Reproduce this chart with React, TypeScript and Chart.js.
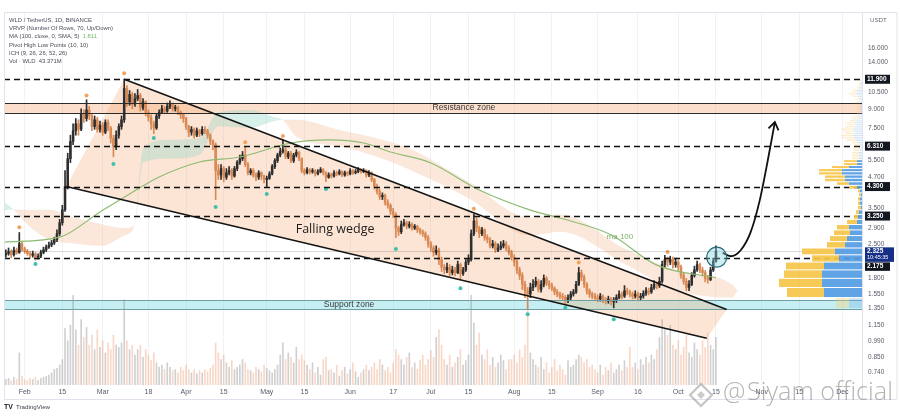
import React, { useEffect, useRef } from "react";
import { Chart, registerables } from "chart.js";

Chart.register(...registerables);

// ---------- DATA ----------
const FIRST_DAY = -6; // candle index of first bar (Jan 26)
const FIRST_OPEN = 2.25;

const closes = [
  2.28, 2.32, 2.25, 2.35, 2.30, 2.50, 2.38, 2.33, 2.28, 2.24, 2.27, 2.20, 2.22, 2.30, 2.36, 2.42, 2.47, 2.52, 2.60,
  2.75, 3.05, 3.45, 4.30, 5.60, 6.60, 7.30, 7.80, 7.40, 8.60, 8.20, 8.90, 8.40,
  7.60, 8.10, 7.40, 7.70, 7.20, 7.90, 7.50, 6.80, 6.30, 7.00, 7.60, 8.10, 10.90,
  9.60, 10.30, 9.40, 9.90, 10.20, 9.10, 9.60, 8.70, 8.30, 7.80, 7.50, 8.40, 8.70,
  9.00, 8.80, 9.20, 9.40, 9.00, 9.10, 8.70, 8.50, 8.20, 7.60, 7.20, 7.40, 7.00,
  7.30, 7.10, 7.40, 7.30, 7.00, 6.60, 6.40, 5.00, 4.80, 5.10, 4.70, 4.90, 5.00,
  4.75, 5.10, 5.40, 5.60, 5.80, 5.30, 4.90, 5.00, 4.80, 4.70, 4.90, 4.75, 4.60,
  4.65, 4.85, 5.20, 5.50, 5.80, 6.00, 6.10, 5.70, 5.90, 5.50, 5.80, 5.95, 5.60,
  5.00, 4.90, 5.05, 4.95, 5.00, 4.85, 4.95, 5.05, 4.90, 4.70, 4.80, 4.75, 4.90,
  4.85, 4.95, 4.80, 4.90, 4.85, 5.00, 4.90, 4.95, 5.05, 4.95, 5.00, 4.80, 4.90,
  4.60, 4.30, 4.10, 3.90, 3.95, 3.70, 3.60, 3.40, 3.30, 2.90, 2.80, 3.00, 3.05,
  2.95, 3.00, 2.90, 2.95, 2.85, 2.80, 2.75, 2.65, 2.50, 2.40, 2.30, 2.35, 2.15,
  2.00, 1.95, 2.00, 1.90, 1.95, 1.90, 2.05, 1.88, 1.95, 2.10, 2.15, 2.75, 3.10,
  2.90, 2.75, 2.85, 2.65, 2.60, 2.45, 2.50, 2.35, 2.40, 2.45, 2.50, 2.40, 2.30,
  2.20, 2.10, 1.95, 1.85, 1.70, 1.60, 1.55, 1.65, 1.70, 1.75, 1.62, 1.70, 1.80,
  1.72, 1.68, 1.64, 1.58, 1.55, 1.52, 1.50, 1.46, 1.50, 1.55, 1.58, 1.70, 1.90,
  1.82, 1.70, 1.60, 1.55, 1.52, 1.50, 1.48, 1.52, 1.47, 1.45, 1.48, 1.44, 1.46,
  1.50, 1.55, 1.52, 1.60, 1.58, 1.55, 1.52, 1.55, 1.50, 1.52, 1.56, 1.60, 1.58,
  1.65, 1.70, 1.68, 1.75, 2.05, 2.15, 2.10, 2.15, 2.05, 2.10, 2.00, 1.85, 1.75,
  1.65, 1.70, 1.85, 1.95, 2.05, 1.95, 1.90, 1.80, 1.78, 1.95, 2.12, 2.33,
];

const highs = [
  2.36, 2.40, 2.36, 2.42, 2.40, 2.78, 2.55, 2.42, 2.37, 2.32, 2.33, 2.30, 2.27, 2.35, 2.42, 2.47, 2.54, 2.58, 2.66,
  2.85, 3.15, 3.60, 5.00, 5.90, 7.00, 7.80, 8.20, 8.10, 9.00, 8.90, 9.80, 9.20,
  8.60, 8.40, 8.30, 8.00, 7.90, 8.10, 8.10, 7.60, 7.00, 7.30, 7.80, 8.40, 11.90,
  11.20, 10.70, 10.50, 10.40, 10.80, 10.40, 9.90, 9.70, 8.90, 8.50, 8.00, 8.60, 8.90,
  9.30, 9.20, 9.50, 9.70, 9.50, 9.30, 9.20, 8.80, 8.60, 8.30, 7.70, 7.60, 7.50,
  7.50, 7.40, 7.60, 7.60, 7.40, 7.10, 6.70, 6.50, 5.30, 5.30, 5.20, 5.10, 5.20,
  5.10, 5.20, 5.50, 5.80, 6.00, 6.30, 5.40, 5.10, 5.10, 4.90, 5.00, 4.95, 4.80,
  4.75, 4.95, 5.30, 5.60, 5.90, 6.20, 6.70, 6.20, 6.00, 6.00, 5.90, 6.10, 6.00,
  5.65, 5.10, 5.15, 5.10, 5.10, 5.05, 5.05, 5.15, 5.10, 4.95, 4.90, 4.88, 5.00,
  4.98, 5.05, 5.00, 4.98, 4.96, 5.10, 5.05, 5.05, 5.15, 5.10, 5.10, 5.05, 5.00,
  4.95, 4.65, 4.40, 4.20, 4.05, 4.00, 3.80, 3.65, 3.50, 3.35, 2.95, 3.10, 3.15,
  3.10, 3.08, 3.05, 3.00, 2.98, 2.90, 2.85, 2.80, 2.70, 2.55, 2.45, 2.45, 2.40,
  2.20, 2.05, 2.08, 2.05, 2.02, 2.00, 2.12, 2.08, 2.00, 2.15, 2.25, 2.85, 3.30,
  3.20, 2.95, 2.92, 2.88, 2.72, 2.65, 2.58, 2.55, 2.50, 2.55, 2.58, 2.55, 2.45,
  2.35, 2.25, 2.15, 2.00, 1.90, 1.75, 1.65, 1.72, 1.78, 1.82, 1.78, 1.76, 1.86,
  1.83, 1.76, 1.72, 1.66, 1.62, 1.58, 1.56, 1.53, 1.54, 1.59, 1.62, 1.75, 2.00,
  1.95, 1.86, 1.73, 1.63, 1.58, 1.56, 1.54, 1.56, 1.54, 1.50, 1.52, 1.50, 1.50,
  1.54, 1.60, 1.58, 1.68, 1.64, 1.61, 1.58, 1.60, 1.58, 1.56, 1.60, 1.65, 1.64,
  1.70, 1.76, 1.74, 1.82, 2.12, 2.24, 2.20, 2.22, 2.20, 2.18, 2.14, 2.04, 1.90,
  1.80, 1.76, 1.90, 2.02, 2.12, 2.08, 2.00, 1.94, 1.85, 2.00, 2.18, 2.45,
];

const lows = [
  2.20, 2.24, 2.19, 2.22, 2.26, 2.28, 2.33, 2.28, 2.24, 2.18, 2.20, 2.14, 2.16, 2.19, 2.27, 2.32, 2.39, 2.43, 2.48,
  2.55, 2.70, 2.98, 3.40, 4.20, 5.40, 6.40, 7.00, 7.00, 7.30, 7.90, 8.00, 8.10,
  7.30, 7.40, 7.20, 7.20, 7.00, 7.10, 7.30, 6.50, 5.70, 6.10, 6.80, 7.40, 7.90,
  9.20, 9.30, 9.00, 9.20, 9.70, 8.80, 8.90, 8.40, 8.00, 7.40, 7.10, 7.40, 8.20,
  8.60, 8.60, 8.70, 9.00, 8.80, 8.80, 8.50, 8.20, 7.90, 7.40, 6.90, 7.00, 6.80,
  6.90, 6.90, 7.00, 7.10, 6.80, 6.40, 6.10, 3.80, 4.60, 4.60, 4.50, 4.60, 4.80,
  4.60, 4.70, 5.00, 5.30, 5.50, 5.20, 4.80, 4.80, 4.70, 4.55, 4.60, 4.60, 4.45,
  4.30, 4.60, 4.80, 5.10, 5.40, 5.70, 5.90, 5.60, 5.60, 5.40, 5.40, 5.70, 5.50,
  4.90, 4.80, 4.85, 4.85, 4.88, 4.75, 4.80, 4.90, 4.80, 4.50, 4.65, 4.66, 4.70,
  4.76, 4.80, 4.72, 4.74, 4.76, 4.80, 4.82, 4.85, 4.90, 4.88, 4.90, 4.70, 4.72,
  4.50, 4.20, 4.00, 3.80, 3.80, 3.60, 3.50, 3.30, 3.20, 2.65, 2.70, 2.75, 2.95,
  2.88, 2.90, 2.84, 2.86, 2.78, 2.74, 2.68, 2.58, 2.42, 2.33, 2.22, 2.25, 2.05,
  1.92, 1.88, 1.90, 1.84, 1.86, 1.84, 1.88, 1.78, 1.85, 1.92, 2.05, 2.12, 2.70,
  2.80, 2.65, 2.70, 2.58, 2.52, 2.40, 2.40, 2.30, 2.32, 2.36, 2.40, 2.34, 2.25,
  2.14, 2.02, 1.88, 1.78, 1.62, 1.50, 1.35, 1.50, 1.60, 1.66, 1.58, 1.58, 1.66,
  1.68, 1.63, 1.60, 1.54, 1.51, 1.48, 1.46, 1.40, 1.43, 1.47, 1.52, 1.56, 1.68,
  1.76, 1.65, 1.55, 1.50, 1.48, 1.46, 1.44, 1.45, 1.43, 1.41, 1.42, 1.40, 1.36,
  1.43, 1.48, 1.48, 1.50, 1.54, 1.51, 1.48, 1.49, 1.46, 1.47, 1.49, 1.53, 1.54,
  1.56, 1.62, 1.63, 1.65, 1.72, 2.00, 2.02, 2.05, 1.98, 2.00, 1.94, 1.80, 1.70,
  1.60, 1.60, 1.68, 1.82, 1.92, 1.90, 1.84, 1.74, 1.72, 1.76, 1.92, 2.10,
];

const volumesM = [
  5, 6, 4, 7, 5, 29, 8, 5, 4, 6, 5, 7, 4, 6, 7, 8, 9, 11, 14,
  15, 18, 23, 51, 40, 54, 81, 50, 36, 59, 43, 52, 36,
  45, 32, 50, 34, 40, 29, 38, 32, 45, 36, 34, 38, 77,
  40, 32, 36, 27, 32, 36, 25, 32, 27, 22, 29, 20, 16,
  18, 14, 20, 16, 13, 14, 11, 16, 13, 18, 14, 11, 14,
  10, 13, 11, 14, 12, 15, 18, 38, 29, 23, 27, 20, 16,
  22, 14, 16, 18, 23, 20, 14, 13, 11, 16, 14, 12, 18,
  15, 13, 11, 14, 18, 27, 38, 23, 29, 25, 20, 34, 23,
  27, 22, 18, 14, 20, 11, 16, 9, 23, 25, 13, 14, 11,
  18, 8, 13, 16, 10, 14, 20, 12, 7, 11, 14, 18, 13,
  16, 20, 14, 23, 18, 13, 16, 11, 20, 32, 27, 23, 18,
  25, 29, 16, 20, 14, 22, 27, 18, 23, 31, 25, 43, 50,
  36, 23, 18, 27, 16, 20, 25, 32, 18, 22, 27, 81, 56,
  36, 47, 27, 23, 32, 18, 25, 16, 20, 27, 22, 14, 23,
  23, 27, 20, 32, 25, 36, 72, 29, 23, 18, 16, 25, 14,
  20, 11, 16, 23, 13, 18, 14, 9, 22, 16, 18, 23, 27,
  25, 20, 23, 16, 18, 14, 11, 18, 9, 16, 13, 20, 11,
  14, 18, 13, 22, 16, 34, 16, 20, 14, 23, 18, 25, 20,
  27, 23, 32, 43, 59, 50, 45, 54, 36, 32, 40, 27, 34,
  45, 29, 25, 38, 32, 27, 40, 34, 47, 36, 32, 43,
];

// MA(100) sampled
const maDays = [-6.3, 14, 29, 40, 51, 66, 81, 100, 114, 127, 137, 152, 170, 189, 200, 219, 236, 258];
const maValues = [2.54, 2.66, 3.38, 4.01, 4.71, 5.43, 5.69, 6.5, 6.69, 6.5, 5.97, 5.38, 4.16, 3.44, 3.19, 2.72, 2.04, 1.81];

// Ichimoku cloud (spans)
const cloudDays = [-7, -5, -3, 2, 10, 20, 30, 38, 42, 45, 55, 66, 73, 85, 94, 97, 102, 118, 134, 145, 166, 189, 200, 225, 243, 264, 266];
const spanA = [3.75, 3.6, 3.45, 3.0, 2.6, 2.5, 2.45, 2.7, 3.0, 6.2, 6.7, 6.8, 8.7, 8.9, 8.3, 8.1, 6.9, 6.3, 5.6, 5.0, 3.85, 2.7, 2.8, 2.04, 1.61, 1.5, 1.6];
const spanB = [3.4, 3.45, 3.45, 3.45, 3.45, 3.2, 3.0, 2.9, 3.0, 5.4, 5.6, 5.8, 7.6, 7.5, 8.0, 8.1, 8.1, 7.35, 6.7, 6.1, 4.5, 3.2, 3.3, 2.36, 1.95, 1.7, 1.6];

// Pivot points
const pivotHighDays = [-1, 24, 38, 83, 97, 168, 207, 240];
const pivotHighValues = [2.92, 10.2, 12.6, 6.55, 6.95, 3.48, 2.09, 2.31];
const pivotLowDays = [5, 34, 49, 72, 91, 113, 139, 163, 188, 202, 220];
const pivotLowValues = [2.06, 5.32, 6.81, 3.54, 4.01, 4.2, 2.38, 1.64, 1.28, 1.36, 1.22];

// Drawings
const keyLevels = [11.9, 6.31, 4.3, 3.25, 2.175];
const boxedLevels = ["11.900", "6.310", "4.300", "3.250"];
const lastPrice = 2.325;
const lastPriceLabel = "2.325";
const countdownLabel = "10:45:35";
const levelBelowLabel = "2.175";
const resistanceZone = [8.65, 9.5];
const supportZone = [1.345, 1.465];
const wedgeUpper = [[38, 11.9], [262, 1.34]];
const wedgeLower = [[16.5, 4.3], [254.6, 1.02]];
const arrowDays = [260.5, 263.5, 267.2, 270.9, 274.3, 277.3, 279.9];
const arrowPrices = [2.29, 2.22, 2.35, 2.79, 3.78, 5.53, 7.93];
const circleAt = [258.3, 2.2];
const wedgeLabelAt = [116.4, 2.85];
const maLabelAt = [222.3, 2.66];
const resistanceLabelDay = 164.3;
const supportLabelDay = 121.6;

// Volume profile (70 rows)
const vpStart = 1.35;
const vpStep = 0.15;
const vpUp = [
  13, 38, 40, 40, 38, 23, 27, 17, 15, 12,
  13, 5, 4, 3, 1, 2, 2, 1, 2, 5,
  13, 17, 17, 20, 20, 13, 5, 5, 3, 3,
  3, 2, 3, 2, 4, 6, 8, 9, 7, 8,
  9, 7, 6, 8, 5, 4, 5, 3, 2, 3,
  2, 3, 2, 2, 3, 2, 3, 2, 4, 5,
  6, 5, 4, 3, 2, 2, 1, 2, 1, 1,
];
const vpDown = [
  13, 37, 43, 38, 38, 27, 33, 18, 17, 16,
  12, 10, 4, 3, 3, 2, 2, 2, 2, 8,
  12, 20, 20, 23, 23, 17, 13, 13, 7, 7,
  7, 6, 6, 5, 6, 9, 12, 12, 10, 11,
  12, 10, 9, 10, 7, 6, 6, 4, 3, 4,
  3, 4, 3, 3, 4, 3, 4, 3, 5, 7,
  8, 6, 5, 4, 3, 2, 2, 2, 1, 1,
];
const vpValueArea = [1, 27];

// Axes
const xTickDays = [1, 15, 30, 47, 61, 75, 91, 105, 122, 138, 152, 166, 183, 197, 214, 229, 244, 258, 275, 289, 305];
const xTickLabels = ["Feb", "15", "Mar", "18", "Apr", "15", "May", "15", "Jun", "17", "Jul", "15", "Aug", "15", "Sep", "16", "Oct", "15", "Nov", "15", "Dec"];
const yTickValues = [16, 14, 10.5, 9, 7.5, 5.5, 4.7, 3.5, 2.9, 2.5, 1.8, 1.55, 1.35, 1.15, 0.99, 0.85, 0.74];

const legendLines = [
  "WLD / TetherUS, 1D, BINANCE",
  "VRVP (Number Of Rows, 70, Up/Down)",
  "MA (100, close, 0, SMA, 5)",
  "Pivot High Low Points (10, 10)",
  "ICH (9, 26, 26, 52, 26)",
  "Vol · WLD  43.371M",
];
const maLegendValue = "1.811";

// ---------- DERIVED ----------
const days = closes.map((_, i) => FIRST_DAY + i);
const opens = closes.map((_, i) => (i === 0 ? FIRST_OPEN : closes[i - 1]));
const up = closes.map((c, i) => c >= opens[i]);
const UP_COLOR = "#2e2e2e";
const DOWN_COLOR = "#d98953";
const candleColors = up.map((u) => (u ? UP_COLOR : DOWN_COLOR));

const FONT = '"Liberation Sans", Arial, sans-serif';

const overlay = {
  id: "overlay",
  beforeDatasetsDraw(chart: any) {
    const { ctx, chartArea: a, scales } = chart;
    const X = (d: number) => scales.x.getPixelForValue(d);
    const Y = (p: number) => scales.y.getPixelForValue(p);
    ctx.save();
    ctx.beginPath();
    ctx.rect(a.left, a.top, a.right - a.left, a.bottom - a.top);
    ctx.clip();
    ctx.fillStyle = "rgba(245,168,118,0.38)";
    ctx.fillRect(a.left, Y(resistanceZone[1]), a.right - a.left, Y(resistanceZone[0]) - Y(resistanceZone[1]));
    ctx.fillStyle = "rgba(150,225,232,0.55)";
    ctx.fillRect(a.left, Y(supportZone[1]), a.right - a.left, Y(supportZone[0]) - Y(supportZone[1]));
    ctx.beginPath();
    ctx.moveTo(X(wedgeLower[0][0]), Y(wedgeLower[0][1]));
    ctx.lineTo(X(wedgeUpper[0][0]), Y(wedgeUpper[0][1]));
    ctx.lineTo(X(wedgeUpper[1][0]), Y(wedgeUpper[1][1]));
    ctx.lineTo(X(wedgeLower[1][0]), Y(wedgeLower[1][1]));
    ctx.closePath();
    ctx.fillStyle = "rgba(245,160,100,0.27)";
    ctx.fill();
    ctx.restore();
  },
  afterDatasetsDraw(chart: any) {
    const { ctx, chartArea: a, scales } = chart;
    const X = (d: number) => scales.x.getPixelForValue(d);
    const Y = (p: number) => scales.y.getPixelForValue(p);
    ctx.save();
    ctx.beginPath();
    ctx.rect(a.left, a.top, a.right - a.left, a.bottom - a.top);
    ctx.clip();

    ctx.strokeStyle = "rgba(0,0,0,0.14)";
    ctx.lineWidth = 1;
    ctx.beginPath();
    ctx.moveTo(a.left, Math.round(Y(lastPrice)) + 0.5);
    ctx.lineTo(a.right, Math.round(Y(lastPrice)) + 0.5);
    ctx.stroke();

    ctx.lineWidth = 1;
    ctx.strokeStyle = "#2a2a2a";
    for (const p of resistanceZone) {
      const yy = Math.round(Y(p)) + 0.5;
      ctx.beginPath(); ctx.moveTo(a.left, yy); ctx.lineTo(a.right, yy); ctx.stroke();
    }
    ctx.strokeStyle = "#6f9ea3";
    for (const p of supportZone) {
      const yy = Math.round(Y(p)) + 0.5;
      ctx.beginPath(); ctx.moveTo(a.left, yy); ctx.lineTo(a.right, yy); ctx.stroke();
    }

    ctx.strokeStyle = "#111";
    ctx.lineWidth = 1.3;
    ctx.setLineDash([6, 4]);
    for (const p of keyLevels) {
      const yy = Math.round(Y(p)) + 0.5;
      ctx.beginPath(); ctx.moveTo(a.left, yy); ctx.lineTo(a.right, yy); ctx.stroke();
    }
    ctx.setLineDash([]);

    ctx.fillStyle = "#3a3a3a";
    ctx.font = `8.5px ${FONT}`;
    ctx.textAlign = "center";
    ctx.textBaseline = "middle";
    ctx.fillText("Resistance zone", X(resistanceLabelDay), (Y(resistanceZone[0]) + Y(resistanceZone[1])) / 2);
    ctx.fillText("Support zone", X(supportLabelDay), (Y(supportZone[0]) + Y(supportZone[1])) / 2);

    ctx.strokeStyle = "#141414";
    ctx.lineWidth = 1.5;
    for (const seg of [wedgeUpper, wedgeLower]) {
      ctx.beginPath();
      ctx.moveTo(X(seg[0][0]), Y(seg[0][1]));
      ctx.lineTo(X(seg[1][0]), Y(seg[1][1]));
      ctx.stroke();
    }

    ctx.beginPath();
    ctx.arc(X(circleAt[0]), Y(circleAt[1]), 10, 0, Math.PI * 2);
    ctx.fillStyle = "rgba(120,208,222,0.38)";
    ctx.fill();
    ctx.strokeStyle = "#2d6c78";
    ctx.lineWidth = 1.2;
    ctx.stroke();

    const n = arrowDays.length;
    const x1 = X(arrowDays[n - 2]), y1 = Y(arrowPrices[n - 2]);
    const x2 = X(arrowDays[n - 1]), y2 = Y(arrowPrices[n - 1]);
    const ang = Math.atan2(y2 - y1, x2 - x1);
    ctx.strokeStyle = "#111";
    ctx.lineWidth = 1.8;
    ctx.beginPath();
    ctx.moveTo(x2 - 9 * Math.cos(ang - 0.6), y2 - 9 * Math.sin(ang - 0.6));
    ctx.lineTo(x2, y2);
    ctx.lineTo(x2 - 9 * Math.cos(ang + 0.6), y2 - 9 * Math.sin(ang + 0.6));
    ctx.stroke();

    ctx.fillStyle = "#1c1c1c";
    ctx.font = `12.5px "Open Sans", ${FONT}`;
    ctx.fillText("Falling wedge", X(wedgeLabelAt[0]), Y(wedgeLabelAt[1]));
    ctx.fillStyle = "#7db46a";
    ctx.font = `8px ${FONT}`;
    ctx.fillText("ma 100", X(maLabelAt[0]), Y(maLabelAt[1]));

    // volume profile, anchored on the right edge through the hidden reversed scale
    const vx = scales.xvp;
    for (let i = 0; i < vpUp.length; i++) {
      const lo = vpStart + i * vpStep;
      const hi = lo + vpStep;
      const yTop = Y(hi) + 0.5;
      const yBot = Y(lo) - 0.5;
      const h = Math.max(0.8, yBot - yTop);
      const strong = i >= vpValueArea[0] && i <= vpValueArea[1];
      const x0 = vx.getPixelForValue(0);
      const xu = vx.getPixelForValue(vpUp[i]);
      const xd = vx.getPixelForValue(vpUp[i] + vpDown[i]);
      ctx.fillStyle = strong ? "rgba(82,156,228,0.92)" : "rgba(110,170,230,0.32)";
      ctx.fillRect(xu, yTop, x0 - xu, h);
      ctx.fillStyle = strong ? "rgba(246,196,72,0.92)" : "rgba(246,205,110,0.38)";
      ctx.fillRect(xd, yTop, xu - xd, h);
    }
    ctx.restore();
  },
  afterDraw(chart: any) {
    const { ctx, chartArea: a, scales, width } = chart;
    const Y = (p: number) => scales.y.getPixelForValue(p);
    ctx.save();
    ctx.strokeStyle = "#e0e3eb";
    ctx.lineWidth = 1;
    ctx.strokeRect(a.left + 0.5, a.top + 0.5, width - a.left - 3.5, 399 - a.top);
    ctx.beginPath();
    ctx.moveTo(a.right + 0.5, a.top);
    ctx.lineTo(a.right + 0.5, 399.5);
    ctx.stroke();

    ctx.textAlign = "left";
    ctx.textBaseline = "middle";
    ctx.font = `bold 6.5px ${FONT}`;
    keyLevels.slice(0, boxedLevels.length).forEach((p, i) => {
      const yy = Y(p);
      ctx.fillStyle = "#131722";
      ctx.fillRect(a.right + 3, yy - 4.5, 25, 9);
      ctx.fillStyle = "#fff";
      ctx.fillText(boxedLevels[i], a.right + 5, yy);
    });
    const yl = Y(lastPrice);
    ctx.fillStyle = "#152f86";
    ctx.fillRect(a.right + 3, yl - 4, 29, 14.5);
    ctx.fillStyle = "#fff";
    ctx.fillText(lastPriceLabel, a.right + 5, yl);
    ctx.font = `5.5px ${FONT}`;
    ctx.fillText(countdownLabel, a.right + 5, yl + 6.5);
    ctx.fillStyle = "#131722";
    ctx.fillRect(a.right + 3, yl + 11, 25, 8.5);
    ctx.fillStyle = "#fff";
    ctx.font = `bold 6.5px ${FONT}`;
    ctx.fillText(levelBelowLabel, a.right + 5, yl + 15.3);

    ctx.fillStyle = "#6a6d78";
    ctx.font = `6.2px ${FONT}`;
    ctx.fillText("USDT", a.right + 8, 20);

    ctx.font = `5.9px ${FONT}`;
    legendLines.forEach((t, i) => {
      const yy = 20 + i * 8.3;
      ctx.fillStyle = "#4a4e59";
      ctx.fillText(t, 9, yy);
      if (i === 2) {
        const w = ctx.measureText(t + "  ").width;
        ctx.fillStyle = "#6fb86a";
        ctx.fillText(maLegendValue, 9 + w, yy);
      }
    });

    ctx.fillStyle = "#131722";
    ctx.font = `bold 7px ${FONT}`;
    ctx.fillText("TV", 4, 407);
    ctx.font = `6.2px ${FONT}`;
    ctx.fillStyle = "#3a3d46";
    ctx.fillText("TradingView", 16, 407);

    const cx = 701, cy = 395;
    ctx.strokeStyle = "rgba(150,150,150,0.55)";
    ctx.lineWidth = 2.2;
    ctx.beginPath();
    ctx.moveTo(cx, cy - 11); ctx.lineTo(cx + 11, cy); ctx.lineTo(cx, cy + 11); ctx.lineTo(cx - 11, cy); ctx.closePath();
    ctx.stroke();
    ctx.fillStyle = "rgba(150,150,150,0.5)";
    ctx.beginPath();
    ctx.moveTo(cx, cy - 4); ctx.lineTo(cx + 4, cy); ctx.lineTo(cx, cy + 4); ctx.lineTo(cx - 4, cy); ctx.closePath();
    ctx.fill();
    ctx.font = `300 20px "Open Sans", ${FONT}`;
    const w = ctx.measureText("Siyam official").width;
    const fs = (20 * 146) / w;
    ctx.font = `300 ${fs}px "Open Sans", ${FONT}`;
    ctx.fillStyle = "rgba(130,130,130,0.6)";
    ctx.textBaseline = "middle";
    ctx.fillText("@", 723, 393);
    ctx.fillText("Siyam official", 747, 393);
    ctx.restore();
  },
};

export default function App() {
  const ref = useRef<HTMLCanvasElement>(null);
  useEffect(() => {
    document.body.style.margin = "0";
    if (!ref.current) return;
    const chart = new Chart(ref.current, {
      type: "bar",
      data: {
        datasets: [
          {
            type: "bar",
            label: "vol",
            yAxisID: "yv",
            data: days.map((d, i) => ({ x: d, y: volumesM[i] })),
            backgroundColor: up.map((u) => (u ? "rgba(150,150,150,0.45)" : "rgba(238,160,120,0.42)")),
            barThickness: 1,
            grouped: false,
            order: 10,
          },
          {
            type: "line",
            label: "spanA",
            data: cloudDays.map((d, i) => ({ x: d, y: spanA[i] })),
            borderColor: "transparent",
            borderWidth: 0,
            pointRadius: 0,
            cubicInterpolationMode: "monotone",
            fill: { target: "+1", above: "rgba(150,215,200,0.38)", below: "rgba(245,165,115,0.26)" },
            order: 9,
          },
          {
            type: "line",
            label: "spanB",
            data: cloudDays.map((d, i) => ({ x: d, y: spanB[i] })),
            borderColor: "transparent",
            borderWidth: 0,
            pointRadius: 0,
            cubicInterpolationMode: "monotone",
            fill: false,
            order: 9,
          },
          {
            type: "bar",
            label: "wick",
            data: days.map((d, i) => ({
              x: d,
              y: [Math.min(lows[i], opens[i], closes[i]), Math.max(highs[i], opens[i], closes[i])],
            })),
            backgroundColor: candleColors,
            barThickness: 1,
            grouped: false,
            order: 6,
          },
          {
            type: "bar",
            label: "body",
            data: days.map((d, i) => ({ x: d, y: [opens[i], closes[i]] })),
            backgroundColor: candleColors,
            barThickness: 1.9,
            minBarLength: 1,
            grouped: false,
            order: 5,
          },
          {
            type: "line",
            label: "ma",
            data: maDays.map((d, i) => ({ x: d, y: maValues[i] })),
            borderColor: "#8dbb72",
            borderWidth: 1.2,
            pointRadius: 0,
            cubicInterpolationMode: "monotone",
            fill: false,
            order: 3,
          },
          {
            type: "line",
            label: "arrow",
            data: arrowDays.map((d, i) => ({ x: d, y: arrowPrices[i] })),
            borderColor: "#111",
            borderWidth: 1.8,
            pointRadius: 0,
            cubicInterpolationMode: "monotone",
            fill: false,
            order: 2,
          },
          {
            type: "scatter",
            label: "ph",
            data: pivotHighDays.map((d, i) => ({ x: d, y: pivotHighValues[i] })),
            backgroundColor: "#f2a35e",
            borderWidth: 0,
            pointRadius: 2,
            order: 1,
          },
          {
            type: "scatter",
            label: "pl",
            data: pivotLowDays.map((d, i) => ({ x: d, y: pivotLowValues[i] })),
            backgroundColor: "#3fbfae",
            borderWidth: 0,
            pointRadius: 2,
            order: 1,
          },
        ] as any,
      },
      options: {
        responsive: false,
        animation: false,
        events: [],
        layout: { padding: { left: 4, top: 12, right: 0, bottom: 17 } },
        plugins: { legend: { display: false }, tooltip: { enabled: false } },
        scales: {
          x: {
            type: "linear",
            position: "bottom",
            min: -6.69,
            max: 312.3,
            offset: false,
            bounds: "data",
            grid: { color: "#f0f2f6", drawTicks: false, offset: false },
            border: { display: false },
            afterBuildTicks: (axis: any) => {
              axis.ticks = xTickDays.map((v) => ({ value: v }));
            },
            afterFit: (axis: any) => {
              axis.height = 14;
            },
            ticks: {
              autoSkip: false,
              maxRotation: 0,
              padding: 3,
              color: "#555a66",
              font: { size: 7, family: FONT },
              callback: (_v: any, i: number) => xTickLabels[i],
            },
          },
          y: {
            type: "logarithmic",
            position: "right",
            min: 0.6542,
            max: 22.53,
            bounds: "data",
            offset: false,
            grid: { display: false, drawTicks: false },
            border: { display: false },
            afterBuildTicks: (axis: any) => {
              axis.ticks = yTickValues.map((v) => ({ value: v }));
            },
            afterFit: (axis: any) => {
              axis.width = 38;
            },
            ticks: {
              autoSkip: false,
              padding: 6,
              color: "#555a66",
              font: { size: 6.5, family: FONT },
              callback: (v: any) => Number(v).toFixed(3),
            },
          },
          yv: { type: "linear", axis: "y", display: false, offset: false, bounds: "data", min: 0, max: 337, grid: { offset: false } },
          xvp: { type: "linear", axis: "x", position: "bottom", display: false, offset: false, bounds: "data", min: 0, max: 858, reverse: true, grid: { offset: false } },
        } as any,
      },
      plugins: [overlay],
    } as any);
    return () => chart.destroy();
  }, []);
  return (
    <div style={{ position: "absolute", left: 0, top: 0, width: 900, height: 416, background: "#fff" }}>
      <canvas ref={ref} width={900} height={416} style={{ width: 900, height: 416, display: "block" }} />
    </div>
  );
}
